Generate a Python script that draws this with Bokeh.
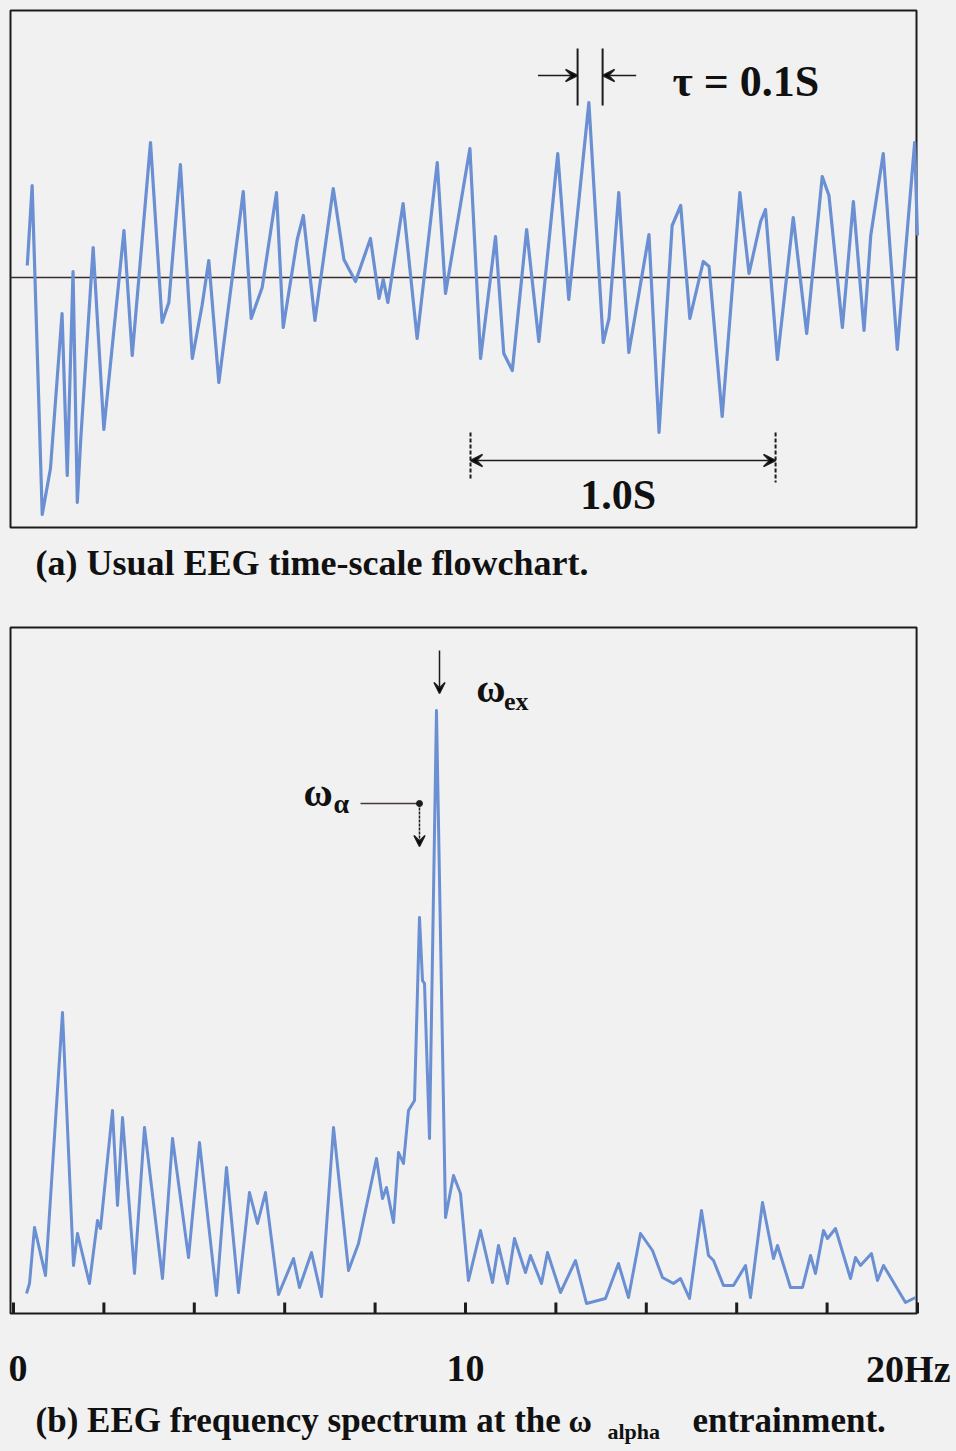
from bokeh.plotting import figure
from bokeh.layouts import column
from bokeh.models import Range1d, Label, Arrow, VeeHead
from bokeh.embed import file_html
from bokeh.resources import INLINE

# ---------------- data ----------------
# (a) EEG trace: time in seconds, amplitude in arbitrary units (extrema of the trace)
eeg_t = [0.055, 0.071, 0.104, 0.131, 0.169, 0.186, 0.205, 0.219, 0.230, 0.271,
         0.306, 0.372, 0.399, 0.459, 0.497, 0.519, 0.557, 0.596, 0.628, 0.650,
         0.683, 0.763, 0.789, 0.825, 0.872, 0.894, 0.940, 0.960, 0.998, 1.058,
         1.093, 1.131, 1.180, 1.208, 1.222, 1.237, 1.287, 1.333, 1.399, 1.426,
         1.506, 1.541, 1.590, 1.617, 1.645, 1.692, 1.732, 1.794, 1.830, 1.896,
         1.943, 1.962, 1.994, 2.027, 2.093, 2.126, 2.169, 2.197, 2.227, 2.271,
         2.290, 2.333, 2.391, 2.421, 2.459, 2.475, 2.514, 2.566, 2.610, 2.661,
         2.683, 2.727, 2.763, 2.798, 2.820, 2.861, 2.907, 2.964, 2.973]
eeg_v = [12, 92, -237, -191, -36, -198, 6, -225, -163, 30,
         -152, 47, -78, 135, -45, -25, 113, -81, -28, 17,
         -105, 86, -41, -10, 85, -50, 38, 62, -43, 89,
         18, -4, 39, -21, -2, -25, 74, -61, 115, -16,
         129, -81, 41, -76, -93, 48, -64, 124, -22, 175,
         -65, -41, 85, -75, 43, -155, 52, 72, -41, 16,
         11, -139, 85, 4, 56, 68, -82, 60, -56, 101,
         82, -50, 76, -53, 42, 124, -72, 135, 42]

# (b) spectrum: frequency in Hz, power in arbitrary units
freq_hz = [0.288, 0.354, 0.465, 0.708, 1.084, 1.327, 1.416, 1.681, 1.858, 1.925,
           2.190, 2.301, 2.412, 2.677, 2.898, 3.296, 3.518, 3.872, 4.115, 4.491,
           4.712, 4.978, 5.221, 5.398, 5.575, 5.863, 6.195, 6.327, 6.593, 6.814,
           7.080, 7.412, 7.633, 8.031, 8.164, 8.252, 8.407, 8.518, 8.628, 8.739,
           8.872, 8.982, 9.049, 9.093, 9.204, 9.358, 9.558, 9.735, 9.889, 10.066,
           10.332, 10.597, 10.730, 10.929, 11.084, 11.327, 11.438, 11.681, 11.814, 12.102,
           12.434, 12.677, 13.097, 13.385, 13.606, 13.872, 14.137, 14.358, 14.602, 14.757,
           14.956, 15.221, 15.376, 15.487, 15.708, 15.929, 16.195, 16.305, 16.571, 16.814,
           16.903, 17.190, 17.456, 17.633, 17.743, 17.920, 18.009, 18.186, 18.518, 18.628,
           18.739, 18.982, 19.115, 19.248, 19.735, 19.956]
power = [20, 30, 86, 38, 301, 48, 80, 30, 93, 85,
         203, 108, 196, 40, 186, 35, 175, 56, 171, 18,
         146, 21, 121, 90, 121, 19, 55, 26, 61, 17,
         186, 43, 70, 155, 115, 126, 91, 161, 150, 203,
         213, 396, 333, 330, 175, 603, 96, 138, 120, 33,
         83, 31, 68, 30, 75, 41, 58, 30, 61, 21,
         53, 10, 15, 50, 16, 80, 63, 36, 30, 35,
         15, 103, 58, 53, 28, 28, 48, 16, 111, 55,
         68, 26, 26, 58, 40, 83, 75, 85, 35, 56,
         48, 60, 33, 48, 11, 16]

freq_ticks = [0, 2, 4, 6, 8, 10, 12, 14, 16, 18, 20]
freq_tick_labels = {0: "0", 10: "10", 20: "20Hz"}

# panel boxes (data units)
box_a = dict(left=0.0, right=2.97, bottom=-250, top=267)
box_b = dict(left=-0.066, right=19.98, bottom=0, top=686)

# annotation positions (data units)
tau_marks = [1.859, 1.941]          # tau = 0.1 s marker lines
one_sec_marks = [1.508, 2.508]      # 1.0 s bracket
omega_ex_f = 9.425
omega_a_f = 8.982

BG = "#f1f1f1"
TRACE = "#6b8fd3"
INK = "#1c1c1c"
FONT = "Liberation Serif"


def base_fig(**kw):
    p = figure(toolbar_location=None, output_backend="svg",
               x_axis_location=None, y_axis_location=None,
               background_fill_color=BG, border_fill_color=BG,
               outline_line_color=None,
               min_border_left=0, min_border_right=0, min_border_top=0, min_border_bottom=0,
               **kw)
    p.xgrid.visible = False
    p.ygrid.visible = False
    return p


def lab(p, x, y, text, size, align="left", baseline="middle", x_offset=0):
    p.add_layout(Label(x=x, y=y, text=text, text_font=FONT, text_font_style="bold",
                       text_font_size=size, text_color="#111111", text_align=align,
                       text_baseline=baseline, x_offset=x_offset))


def vee():
    return VeeHead(size=12, line_color=INK, line_width=1.5)


# ---------------- panel (a) ----------------
pa = base_fig(width=956, height=608, x_range=Range1d(-0.03278, 3.1011), y_range=Range1d(-331, 277))
pa.quad(fill_color=None, line_color=INK, line_width=2, **{k: [v] for k, v in box_a.items()})
pa.segment(x0=[box_a["left"]], y0=[0], x1=[box_a["right"]], y1=[0], line_color="#3a2c2c", line_width=1.6)
pa.line(eeg_t, eeg_v, line_color=TRACE, line_width=3.2, line_join="round")

# tau marker
pa.segment(x0=tau_marks, y0=[172, 172], x1=tau_marks, y1=[229, 229], line_color=INK, line_width=2)
pa.add_layout(Arrow(end=vee(), x_start=tau_marks[0] - 0.13, y_start=202, x_end=tau_marks[0], y_end=202,
                    line_color=INK, line_width=1.5))
pa.add_layout(Arrow(end=vee(), x_start=tau_marks[1] + 0.11, y_start=202, x_end=tau_marks[1], y_end=202,
                    line_color=INK, line_width=1.5))
lab(pa, 2.17, 196, "τ = 0.1S", "44px")

# 1.0 s bracket
pa.segment(x0=one_sec_marks, y0=[-155, -155], x1=one_sec_marks, y1=[-203, -205],
           line_color=INK, line_width=2, line_dash="4 2")
pa.add_layout(Arrow(start=vee(), end=vee(),
                    x_start=one_sec_marks[0], y_start=-183, x_end=one_sec_marks[1], y_end=-183,
                    line_color=INK, line_width=1.5))
lab(pa, 1.992, -217, "1.0S", "42px", align="center")

lab(pa, 0.082, -285, "(a) Usual EEG time-scale flowchart.", "36px")

# ---------------- panel (b) ----------------
pb = base_fig(width=956, height=843, x_range=Range1d(-0.2876, 20.863), y_range=Range1d(-138, 705))
pb.quad(fill_color=None, line_color=INK, line_width=2, **{k: [v] for k, v in box_b.items()})
pb.segment(x0=freq_ticks, y0=[0] * len(freq_ticks), x1=freq_ticks, y1=[11] * len(freq_ticks),
           line_color=INK, line_width=3)
pb.line(freq_hz, power, line_color=TRACE, line_width=3, line_join="round")

for t, s in freq_tick_labels.items():
    if t == 20:
        lab(pb, t, -55, s, "38px", align="right", x_offset=33)
    elif t == 0:
        lab(pb, t, -55, s, "38px", align="left", x_offset=-5)
    else:
        lab(pb, t, -55, s, "38px", align="center")

# omega_ex arrow and label
pb.add_layout(Arrow(end=VeeHead(size=11, line_color=INK, line_width=1.5),
                    x_start=omega_ex_f, y_start=663, x_end=omega_ex_f, y_end=620,
                    line_color=INK, line_width=1.5))
lab(pb, 10.24, 625, "ω", "40px")
lab(pb, 10.85, 612, "ex", "26px")

# omega_alpha marker
pb.segment(x0=[7.677], y0=[510], x1=[omega_a_f], y1=[510], line_color="#4a3838", line_width=1.5)
pb.scatter([omega_a_f], [510], size=6, color=INK)
pb.add_layout(Arrow(end=VeeHead(size=11, line_color=INK, line_width=1.5),
                    x_start=omega_a_f, y_start=510, x_end=omega_a_f, y_end=467,
                    line_color=INK, line_width=1.5, line_dash="3 1"))
lab(pb, 6.416, 521, "ω", "40px")
lab(pb, 7.08, 510, "α", "28px")

# caption (b)
lab(pb, 0.487, -107, "(b) EEG frequency spectrum at the", "35px")
lab(pb, 12.28, -107, "ω", "32px")
lab(pb, 13.14, -118, "alpha", "22px")
lab(pb, 15.02, -107, "entrainment.", "35px")

layout = column(pa, pb)
html = file_html(layout, INLINE, title="EEG")
i = html.rfind("</head>")
if i >= 0:
    html = html[:i] + "<style>html,body{background:#f1f1f1;}</style>" + html[i:]
open("out.html", "w").write(html)
